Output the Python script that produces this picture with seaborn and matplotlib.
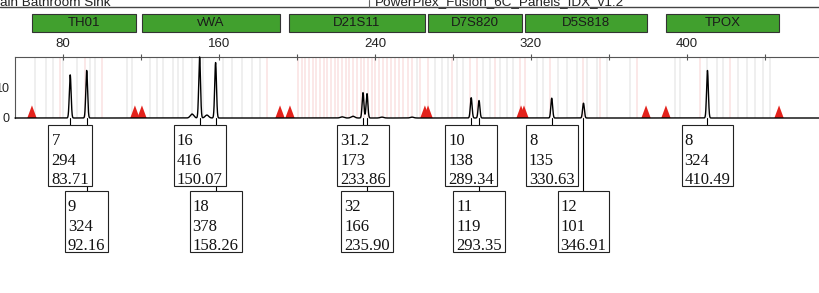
import numpy as np
import pandas as pd
import matplotlib
matplotlib.use("Agg")
import matplotlib.pyplot as plt
import matplotlib.transforms as mtransforms
from matplotlib.patches import Rectangle
from matplotlib.lines import Line2D
import seaborn as sns

# ---------------- data ----------------
header_left = "ain Bathroom Sink"
header_right = "PowerPlex_Fusion_6C_Panels_IDX_v1.2"

loci = ["TH01", "vWA", "D21S11", "D7S820", "D5S818", "TPOX"]
locus_start = [64.1, 120.5, 195.9, 267.2, 316.9, 389.2]
locus_end = [117.4, 191.3, 265.6, 315.4, 379.5, 447.2]

marker_bp = [64.1, 116.9, 120.5, 191.3, 196.4, 265.6, 267.2,
             314.9, 316.4, 379.0, 389.2, 447.2]

allele = ["7", "9", "16", "18", "31.2", "32", "10", "11", "8", "12", "8"]
height_rfu = [294, 324, 416, 378, 173, 166, 138, 119, 135, 101, 324]
size_bp = [83.71, 92.16, 150.07, 158.26, 233.86, 235.90,
           289.34, 293.35, 330.63, 346.91, 410.49]
label_row = [0, 1, 0, 1, 0, 1, 0, 1, 0, 1, 0]

minor_bp = [146.2, 153.8, 223.1, 228.7, 243.6, 259.0]
minor_rfu = [27, 20, 8, 12, 6, 6]

bin_grey = [65.6, 71.3, 74.9, 80.0, 87.2, 93.8, 96.4, 112.8, 115.4, 124.6,
            128.2, 131.3, 136.4, 139.0, 141.5, 146.2, 151.8, 162.0, 166.7,
            171.8, 176.9, 181.0, 261.5, 270.8, 274.3, 277.4, 282.0, 285.1,
            295.4, 299.0, 304.1, 307.7, 310.8, 323.1, 326.1, 333.8, 338.5,
            343.6, 348.7, 353.8, 359.0, 370.8, 393.8, 396.4, 410.3, 415.4,
            418.5, 426.1, 430.8, 434.9, 439.0, 442.6]
bin_pink = [78.5, 91.3, 100.0, 184.6, 200.5, 202.6, 204.1, 206.1, 208.2,
            209.7, 211.8, 213.8, 215.4, 217.4, 219.5, 221.0, 223.1, 225.1,
            226.7, 228.7, 230.8, 232.8, 234.4, 236.4, 238.5, 240.0, 242.0,
            244.1, 246.1, 248.2, 250.2, 252.3, 254.4, 256.9, 259.0, 263.1,
            267.2, 279.5, 288.7, 292.3, 301.5, 314.4, 316.9, 329.7, 346.7,
            355.4, 374.4, 406.7, 422.0]

x_major = [80, 160, 240, 320, 400]
x_minor = [120, 200, 280, 360, 440]
y_major = [0, 10]
y_minor = [5, 15]

RFU_PER_UNIT = 21.1
XMIN, XMAX = 55.4, 468.2
YMAX = 19.7

# ---------------- layout (pixels) ----------------
W, H = 820, 293
AX_L, AX_R, AX_T, AX_B = 15, 820, 57, 118
BOX_T, BOX_B = 14, 31.5          # locus boxes
ROW_TOP = [7, 73]                # label box tops below the axis bottom
FS_BOX = 12
FS_PX = FS_BOX * 100 / 72
PAD_PX = 3.0
LSP = 1.31
TXT_SHIFT = 4.8

sns.set_style("white")
plt.rcParams["font.family"] = ["Liberation Sans", "DejaVu Sans"]

fig = plt.figure(figsize=(W / 100, H / 100), dpi=100)
ax = fig.add_axes([AX_L / W, 1 - AX_B / H, (AX_R - AX_L) / W, (AX_B - AX_T) / H])
ypx = (AX_B - AX_T) / YMAX

# bins
xt = ax.get_xaxis_transform()
ax.vlines(bin_grey, 0, 1, transform=xt, color="#ebebeb", lw=1.1, zorder=0)
ax.vlines(bin_pink, 0, 1, transform=xt, color="#fbe1e1", lw=1.1, zorder=0)

# trace
xs = np.arange(XMIN, XMAX, 0.04)
ys = np.zeros_like(xs)
for s, h in zip(size_bp, height_rfu):
    ys += h / RFU_PER_UNIT * np.exp(-0.5 * ((xs - s) / 0.45) ** 2)
for s, h in zip(minor_bp, minor_rfu):
    ys += h / RFU_PER_UNIT * np.exp(-0.5 * ((xs - s) / 0.9) ** 2)
df = pd.DataFrame({"bp": xs, "signal": ys})

# markers (red triangles)
tri = [(-0.37, 0), (0.37, 0), (0, 1)]
sns.scatterplot(x=marker_bp, y=[0] * len(marker_bp), marker=tri, s=330,
                color="#e3211b", linewidth=0, edgecolor="none", ax=ax, zorder=2)

sns.lineplot(data=df, x="bp", y="signal", color="black", lw=1.0,
             estimator=None, ax=ax, zorder=3)
for ln in ax.lines:
    ln.set_clip_on(False)

ax.set_xlim(XMIN, XMAX)
ax.set_ylim(0, YMAX)
ax.set_xlabel("")
ax.set_ylabel("")

# axes styling
for side in ["bottom", "right"]:
    ax.spines[side].set_visible(False)
for side in ["top", "left"]:
    ax.spines[side].set_color("#555555")
    ax.spines[side].set_linewidth(0.8)
ax.xaxis.tick_top()
ax.set_xticks(x_major)
ax.set_xticks(x_minor, minor=True)
ax.set_xticklabels([str(v) for v in x_major])
ax.set_yticks(y_major)
ax.set_yticks(y_minor, minor=True)
ax.set_yticklabels([str(v) for v in y_major])
ax.tick_params(axis="x", which="both", direction="inout", length=5, width=0.8,
               color="#555555", pad=2.5, labelsize=9.5, labelcolor="#222222",
               top=True, bottom=False)
ax.tick_params(axis="y", which="major", direction="out", length=3.6, width=0.8,
               color="#555555", pad=0.5, labelsize=9, labelcolor="#222222")
ax.tick_params(axis="y", which="minor", direction="out", length=2.5, width=0.8,
               color="#555555")

# locus boxes above the axis
ah = AX_B - AX_T
y0 = 1 + (AX_T - BOX_B) / ah
bh = (BOX_B - BOX_T) / ah
for name, a, b in zip(loci, locus_start, locus_end):
    ax.add_patch(Rectangle((a, y0), b - a, bh, transform=xt, clip_on=False,
                           facecolor="#41a02e", edgecolor="#333333", lw=0.8))
    ax.text((a + b) / 2, y0 + bh / 2, name, transform=xt, ha="center",
            va="center", fontsize=9.5, color="#1a1a1a", clip_on=False)

# allele call boxes
for s, h, a, r in zip(size_bp, height_rfu, allele, label_row):
    top = ROW_TOP[r]
    ax.plot([s, s], [0, -top / ypx], color="black", lw=0.8, clip_on=False, zorder=3)
    txt = f"{a}\n{h}\n{s:.2f}"
    tb = mtransforms.offset_copy(xt, fig=fig, x=0, y=-(top + PAD_PX), units="dots")
    ax.text(s, 0, txt, transform=tb, ha="center", va="top", multialignment="left",
            color="none", fontsize=FS_BOX, family="Liberation Serif", linespacing=LSP,
            bbox=dict(boxstyle=f"square,pad={PAD_PX / FS_PX:.3f}", fc="white",
                      ec="#222222", lw=0.8), zorder=4, clip_on=False)
    tv = mtransforms.offset_copy(xt, fig=fig, x=0, y=-(top + PAD_PX + TXT_SHIFT),
                                 units="dots")
    ax.text(s, 0, txt, transform=tv, ha="center", va="top", multialignment="left",
            color="#111111", fontsize=FS_BOX, family="Liberation Serif",
            linespacing=LSP, zorder=5, clip_on=False)

# header strip
fig.add_artist(Line2D([0, 1], [1 - 7 / H, 1 - 7 / H], transform=fig.transFigure,
                      color="#444444", lw=1.0))
fig.add_artist(Line2D([369 / W, 369 / W], [1 - 7 / H, 1], transform=fig.transFigure,
                      color="#666666", lw=0.8))
fig.text(0 / W, 1 - 5.5 / H, header_left, ha="left", va="baseline",
         fontsize=9.7, color="#222222")
fig.text(375 / W, 1 - 5.5 / H, header_right, ha="left", va="baseline",
         fontsize=9.7, color="#222222")

fig.savefig("out.png", dpi=100)
